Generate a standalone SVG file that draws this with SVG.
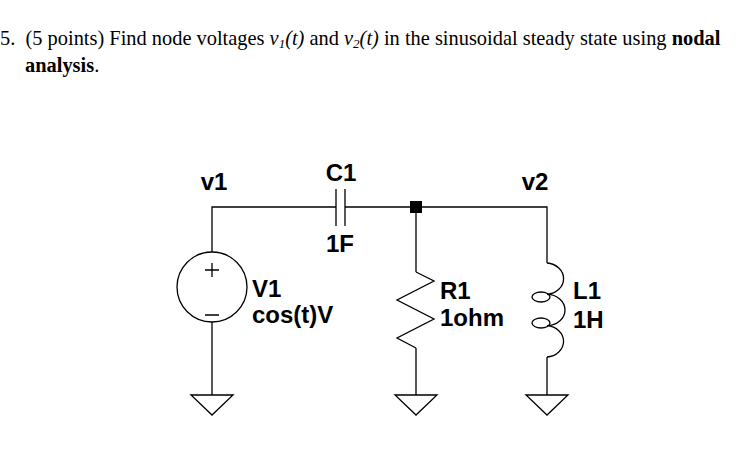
<svg xmlns="http://www.w3.org/2000/svg" width="736" height="458" viewBox="0 0 736 458">
<style>
.w{stroke:#000;stroke-width:1.3;fill:none}
.l{font-family:"Liberation Sans",Arial,sans-serif;font-weight:bold;font-size:24px;fill:#000}
.t{font-family:"Liberation Serif","Times New Roman",serif;font-size:20.4px;fill:#000}
</style>
<rect width="736" height="458" fill="#fff"/>
<text class="t" x="0" y="45" xml:space="preserve">5.  (5 points) Find node voltages <tspan font-style="italic">v<tspan font-size="13" dy="3">1</tspan><tspan dy="-3">(t)</tspan></tspan> and <tspan font-style="italic">v<tspan font-size="13" dy="3">2</tspan><tspan dy="-3">(t)</tspan></tspan> in the sinusoidal steady state using <tspan font-weight="bold">nodal</tspan></text>
<text class="t" x="25" y="72" font-weight="bold">analysis<tspan font-weight="normal">.</tspan></text>
<g id="connectors">
<path class="w" d="M212,252 V207 H336 M345,207 H547 V263 M416,207 V272 M416,348 V395 M547,357 V395 M212,322 V395"/>
</g>
<g id="V1"><circle class="w" cx="212" cy="287" r="35"/><path class="w" d="M205,270 H219 M212,263 V277 M205,315 H219"/><text class="l" x="252" y="297">V1</text><text class="l" x="252" y="323">cos(t)V</text></g>
<g id="C1"><path class="w" d="M336,189 V226 M345,189 V226"/><text class="l" x="341" y="181" text-anchor="middle">C1</text><text class="l" x="340" y="252" text-anchor="middle">1F</text></g>
<g id="junction"><rect x="410" y="201" width="12" height="12" fill="#000"/></g>
<g id="R1"><path class="w" d="M416,272 L434,281 L397,300 L434,319 L397,338 L416,348"/><text class="l" x="440" y="299">R1</text><text class="l" x="440" y="326">1ohm</text></g>
<g id="L1"><path class="w" d="M547,263 A18,15.7 0 0 1 547,294.3 A18,15.7 0 0 1 547,325.7 A18,15.7 0 0 1 547,357"/><ellipse class="w" cx="541" cy="297" rx="9" ry="5"/><ellipse class="w" cx="541" cy="323" rx="9" ry="5"/><text class="l" x="573" y="299">L1</text><text class="l" x="573" y="328">1H</text></g>
<g id="labels"><text class="l" x="214" y="190" text-anchor="middle">v1</text><text class="l" x="535" y="190" text-anchor="middle">v2</text></g>
<g id="grounds"><path class="w" d="M191,395 H233 L212,415 Z M395,395 H437 L416,415 Z M526,395 H568 L547,415 Z"/></g>
</svg>
